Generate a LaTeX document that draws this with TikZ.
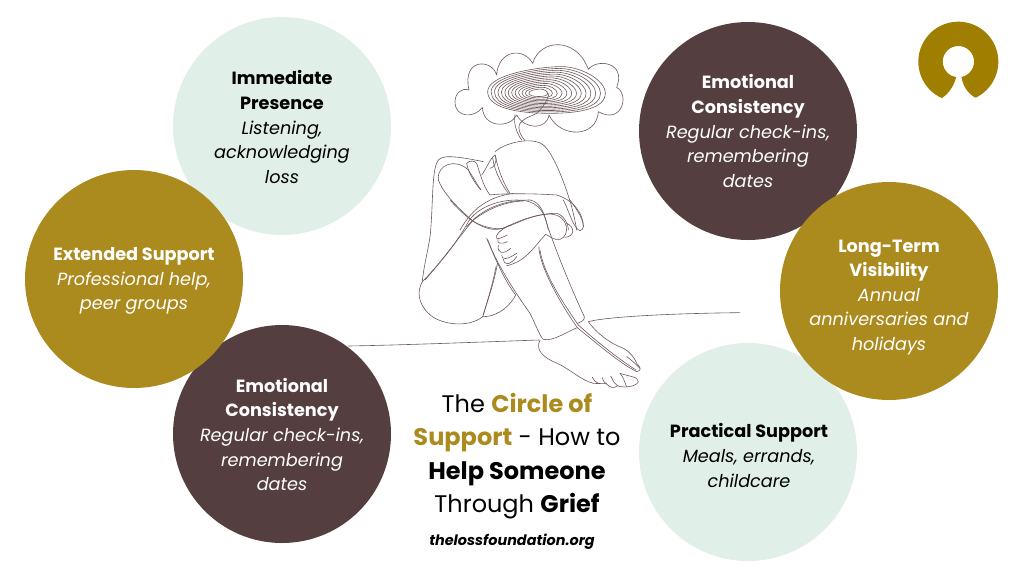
\documentclass[tikz,border=0pt]{standalone}
\usepackage{fontspec}
\setmainfont{Poppins}
\definecolor{mint}{HTML}{E0EFE8}
\definecolor{plum}{HTML}{553E40}
\definecolor{ochre}{HTML}{AB8A1E}
\definecolor{logogold}{HTML}{A07E00}
\definecolor{inkline}{HTML}{6E585C}
\tikzset{
  bubble/.style={circle, minimum size=163.5pt, inner sep=0pt},
  bubbletext/.style={align=center, font=\fontsize{13.25}{18.4}\selectfont},
  sketch/.style={draw=inkline, line width=0.45pt, line cap=round, line join=round},
}
\begin{document}
\begin{tikzpicture}[x=0.75pt, y=-0.75pt]
\useasboundingbox (0,0) rectangle (1024,576);
\node[bubble, fill=mint] (C_immediate) at (282,126) {};
\node[bubble, fill=plum] (C_emo_low) at (282,434) {};
\node[bubble, fill=ochre] (C_extended) at (134,279) {};
\node[bubble, fill=plum] (C_emo_top) at (748,131) {};
\node[bubble, fill=mint] (C_practical) at (748,452) {};
\node[bubble, fill=ochre] (C_longterm) at (889,291) {};
\node[bubbletext, text=black] (L_immediate) at (282,127) {\textbf{Immediate}\\\textbf{Presence}\\\textit{Listening,}\\\textit{acknowledging}\\\textit{loss}};
\node[bubbletext, text=white] (L_emo_low) at (282,434.5) {\textbf{Emotional}\\\textbf{Consistency}\\\textit{Regular check-ins,}\\\textit{remembering}\\\textit{dates}};
\node[bubbletext, text=white] (L_extended) at (134,281) {\textbf{Extended Support}\\\textit{Professional help,}\\\textit{peer groups}};
\node[bubbletext, text=white] (L_emo_top) at (748,131) {\textbf{Emotional}\\\textbf{Consistency}\\\textit{Regular check-ins,}\\\textit{remembering}\\\textit{dates}};
\node[bubbletext, text=black] (L_practical) at (749,455.5) {\textbf{Practical Support}\\\textit{Meals, errands,}\\\textit{childcare}};
\node[bubbletext, text=white] (L_longterm) at (889,297.5) {\textbf{Long-Term}\\\textbf{Visibility}\\\textit{Annual}\\\textit{anniversaries and}\\\textit{holidays}};
\node[align=center, font=\fontsize{18}{25}\selectfont] (T_title) at (517,456) {The \textbf{\textcolor{ochre}{Circle of}}\\\textbf{\textcolor{ochre}{Support}} - How to\\\textbf{Help Someone}\\Through \textbf{Grief}};
\node[font=\fontsize{10.8}{13}\selectfont\bfseries\itshape] (T_site) at (512,542) {thelossfoundation.org};
% logo
\begin{scope}[shift={(900,10)}, scale=1/3]
\fill[logogold] (125.4,264.3) arc (114.4:424.3:120) .. controls (210,255) and (190,235) .. (184.3,201) arc (78.7:-262:47) .. controls (160,235) and (140,255) .. (125.4,264.3) -- cycle;
\end{scope}
% cloud, scribble, shoulders
\begin{scope}[shift={(400,30)}, scale=1/3]
\draw[sketch] (290,135) .. controls (295,60) and (370,50) .. (398,100) .. controls (420,25) and (530,20) .. (565,118) .. controls (590,85) and (680,95) .. (650,172) .. controls (690,195) and (665,285) .. (595,245) .. controls (590,325) and (480,325) .. (447,255) .. controls (440,300) and (375,300) .. (350,255) .. controls (330,295) and (250,295) .. (247,232) .. controls (225,265) and (165,265) .. (165,215) .. controls (165,190) and (185,172) .. (207,180) .. controls (185,85) and (275,85) .. (290,135);
\foreach \k in {1,0.93,...,0.1}
  \draw[sketch, shift={({410+30*\k},190)}, scale=\k] (-177,-5) .. controls (-177,-50) and (-60,-75) .. (30,-80) .. controls (100,-85) and (176,-40) .. (176,0) .. controls (176,45) and (100,60) .. (10,60) .. controls (-100,60) and (-177,40) .. (-177,-5) -- cycle;
\draw[sketch] (447,190) .. controls (440,220) and (420,240) .. (410,250) .. controls (395,258) and (370,265) .. (360,280) .. controls (350,300) and (365,320) .. (375,332);
\draw[sketch] (345,255) .. controls (340,280) and (350,310) .. (365,330);
\draw[sketch] (285,365) .. controls (320,335) and (400,320) .. (430,345) .. controls (460,370) and (495,460) .. (515,530) .. controls (520,550) and (527,580) .. (530,600);
\draw[sketch] (285,375) .. controls (295,420) and (310,460) .. (330,490);
\draw[sketch] (278,385) .. controls (285,430) and (310,470) .. (325,490);
\draw[sketch] (245,435) .. controls (260,415) and (270,385) .. (285,375) .. controls (295,395) and (280,415) .. (270,415);
\draw[sketch] (92,600) .. controls (100,500) and (95,420) .. (115,390) .. controls (130,370) and (200,385) .. (250,395);
\draw[sketch] (115,450) .. controls (110,400) and (170,385) .. (205,420) .. controls (225,450) and (235,470) .. (243,480);
\draw[sketch] (200,400) .. controls (205,430) and (225,460) .. (243,480);
\draw[sketch] (200,400) .. controls (210,390) and (225,392) .. (230,400) .. controls (240,430) and (250,470) .. (270,495) .. controls (300,490) and (400,490) .. (470,495) .. controls (520,510) and (550,550) .. (550,590);
\draw[sketch] (115,450) .. controls (130,490) and (170,530) .. (215,570) .. controls (240,590) and (290,600) .. (310,595) .. controls (370,565) and (420,550) .. (470,550) .. controls (490,555) and (505,580) .. (505,600);
\draw[sketch] (180,600) .. controls (220,530) and (270,500) .. (340,490);
\draw[sketch] (200,590) .. controls (250,530) and (320,510) .. (390,510) .. controls (420,515) and (435,550) .. (445,600);
\end{scope}
% legs, foot, floor
\begin{scope}[shift={(340,200)}, scale=1/3]
\draw[sketch] (272,90) .. controls (270,130) and (250,200) .. (247,245) .. controls (230,275) and (235,310) .. (265,340) .. controls (300,375) and (385,385) .. (428,350) .. controls (480,350) and (515,310) .. (527,285);
\draw[sketch] (247,245) .. controls (300,190) and (350,130) .. (385,65) .. controls (410,25) and (470,0) .. (530,0) .. controls (590,0) and (610,30) .. (620,70) .. controls (650,160) and (700,280) .. (733,350) .. controls (735,360) and (725,365) .. (712,370);
\draw[sketch] (255,240) .. controls (300,190) and (350,120) .. (400,60) .. controls (440,30) and (490,5) .. (550,3);
\draw[sketch] (330,0) .. controls (370,45) and (420,90) .. (470,88) .. controls (510,85) and (560,45) .. (630,42) .. controls (690,45) and (690,110) .. (660,118) .. controls (640,122) and (625,105) .. (617,103) .. controls (590,130) and (560,185) .. (500,197);
\draw[sketch] (510,75) .. controls (480,90) and (465,105) .. (470,115) .. controls (478,118) and (490,110) .. (502,105);
\draw[sketch] (474,118) .. controls (470,128) and (480,135) .. (502,125);
\draw[sketch] (475,135) .. controls (470,160) and (490,165) .. (512,145);
\draw[sketch] (485,165) .. controls (485,180) and (500,180) .. (530,160);
\draw[sketch] (490,178) .. controls (490,195) and (510,198) .. (530,170);
\draw[sketch] (690,0) .. controls (720,40) and (745,85) .. (720,92) .. controls (700,85) and (690,40) .. (670,0);
\draw[sketch] (680,70) .. controls (705,80) and (705,110) .. (675,112);
\draw[sketch] (440,115) .. controls (470,190) and (520,270) .. (570,340) .. controls (590,380) and (600,410) .. (610,418) .. controls (640,425) and (680,395) .. (712,383);
\draw[sketch] (443,118) .. controls (455,150) and (465,175) .. (475,195);
\draw[sketch] (472,190) .. controls (465,240) and (440,310) .. (428,350);
\draw[sketch] (468,200) .. controls (460,245) and (440,310) .. (430,345);
\draw[sketch] (473,190) .. controls (490,230) and (515,270) .. (527,285);
\draw[sketch] (597,140) .. controls (595,180) and (640,280) .. (712,383) .. controls (770,430) and (840,490) .. (890,515);
\draw[sketch] (600,150) .. controls (610,220) and (670,310) .. (715,375) .. controls (770,425) and (840,480) .. (888,510);
\draw[sketch] (25,438) .. controls (200,435) and (450,425) .. (597,420);
\draw[sketch] (1200,338) .. controls (1000,340) and (800,350) .. (745,365) .. controls (770,400) and (810,430) .. (850,445) .. controls (870,455) and (885,475) .. (890,490) .. controls (900,500) and (908,512) .. (890,515);
\draw[sketch] (600,420) .. controls (585,450) and (610,470) .. (640,485) .. controls (690,505) and (720,540) .. (760,550) .. controls (780,552) and (790,548) .. (800,552) .. controls (810,565) and (825,565) .. (832,557) .. controls (850,565) and (890,560) .. (895,545) .. controls (895,530) and (870,530) .. (840,520);
\draw[sketch] (757,532) .. controls (760,540) and (768,548) .. (775,550);
\draw[sketch] (787,533) .. controls (790,545) and (795,550) .. (800,552);
\draw[sketch] (812,528) .. controls (820,545) and (825,552) .. (832,557);
\draw[sketch] (840,520) .. controls (850,530) and (855,550) .. (860,560);
\draw[sketch] (860,470) .. controls (875,480) and (890,495) .. (900,505);
\end{scope}
\end{tikzpicture}
\end{document}
